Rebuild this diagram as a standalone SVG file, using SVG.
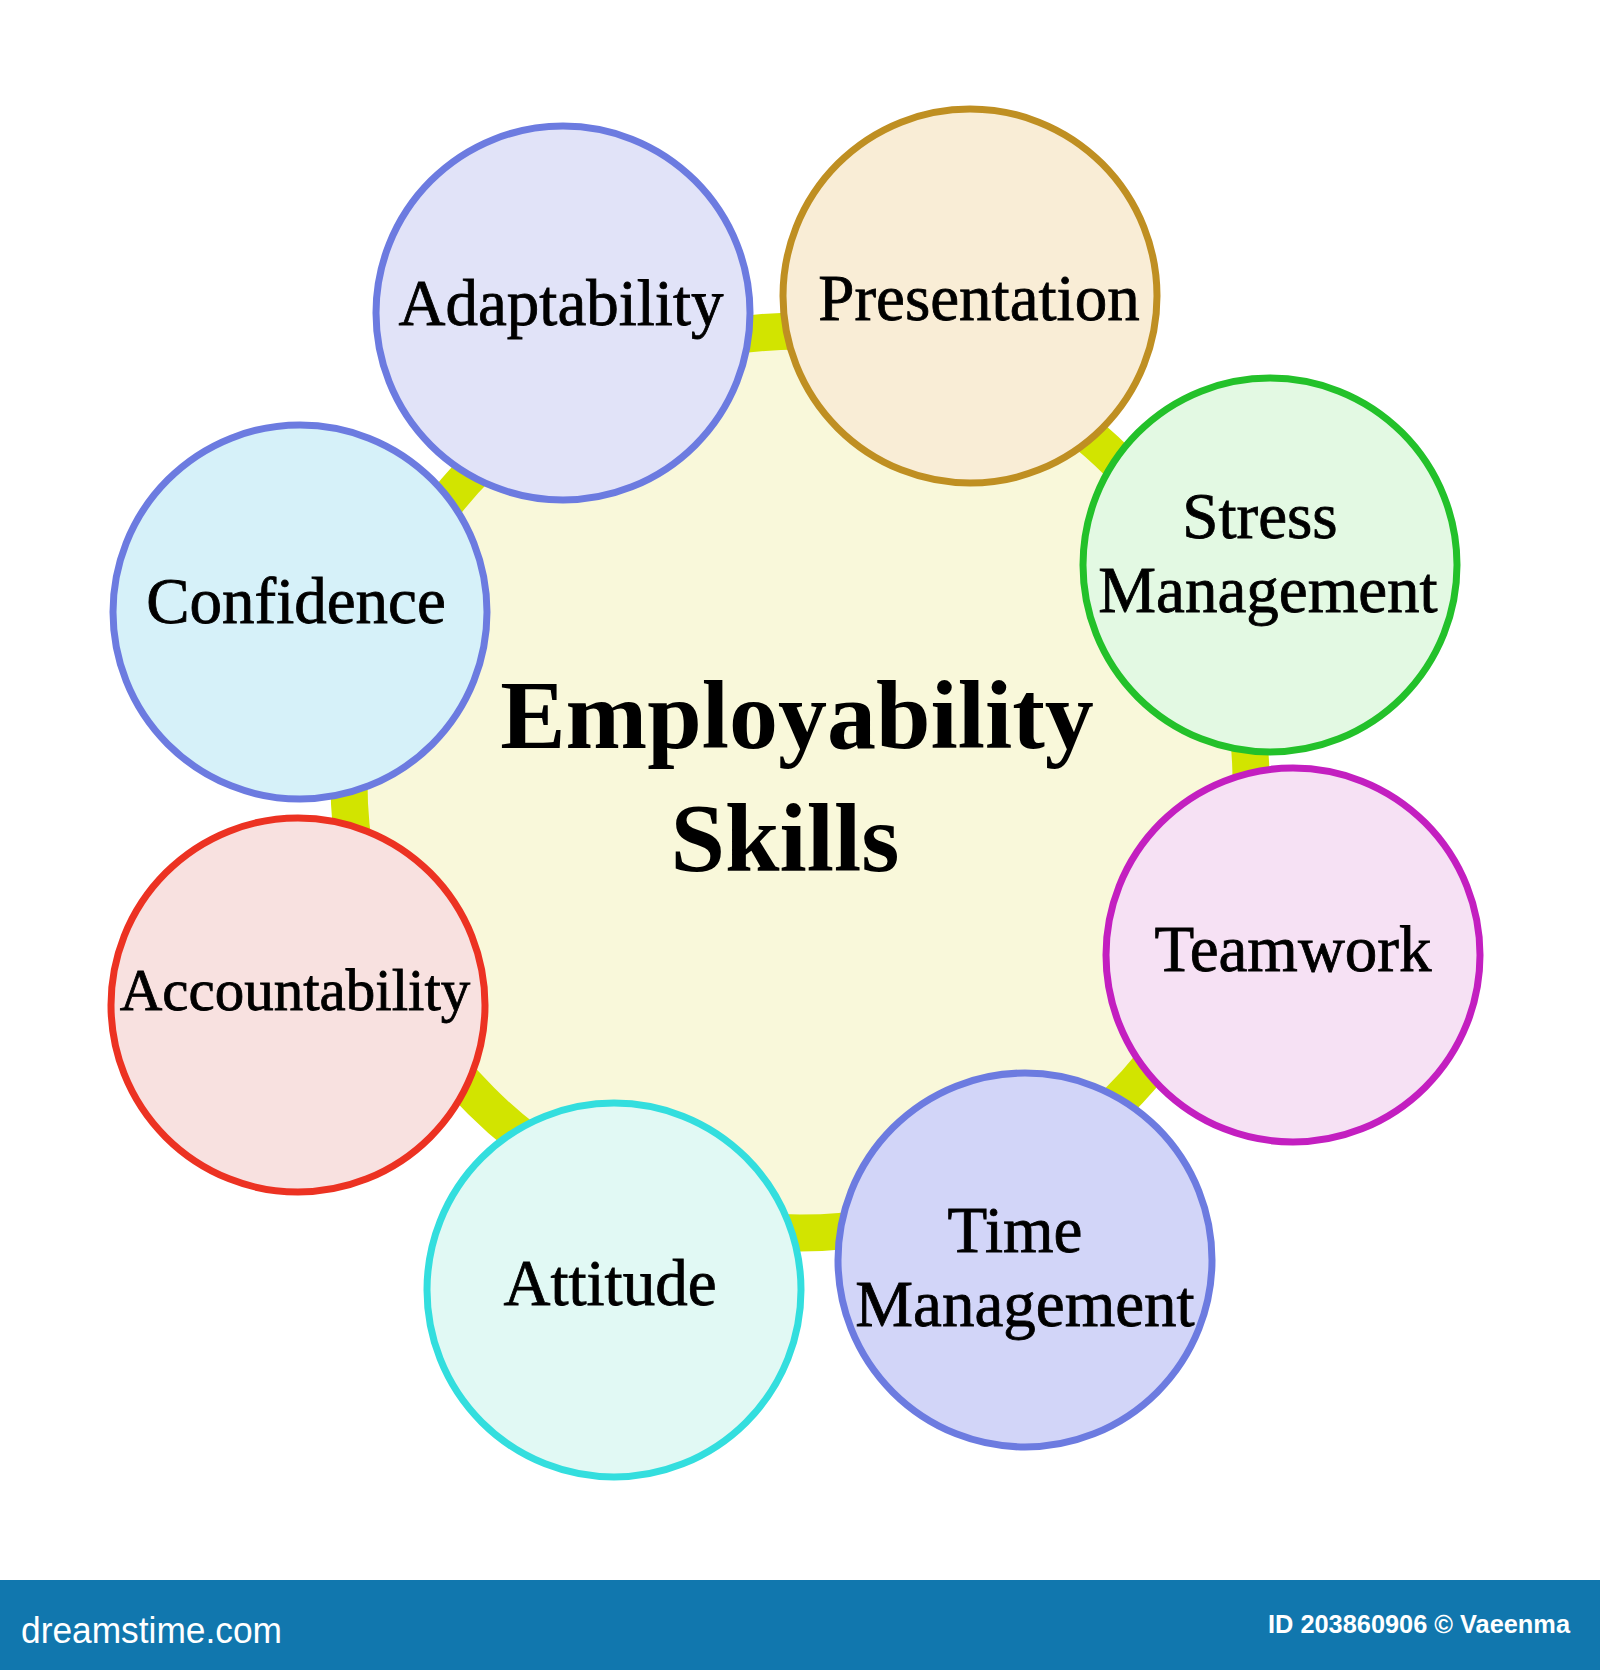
<svg xmlns="http://www.w3.org/2000/svg" width="1600" height="1670" viewBox="0 0 1600 1670">
<style>
.node{stroke-width:7}
.lbl{font-family:"Liberation Serif","Times New Roman",serif;font-size:65px;fill:#000;stroke:#000;stroke-width:0.8;text-anchor:middle}
.title{font-family:"Liberation Serif","Times New Roman",serif;font-size:98px;font-weight:bold;fill:#000;text-anchor:middle}
.foot{font-family:"Liberation Sans","Arial",sans-serif;fill:#fff}
</style>
<rect x="0" y="0" width="1600" height="1670" fill="#ffffff"/>
<g id="connectors">
<circle cx="800" cy="782" r="451" fill="#f9f8da" stroke="#d2e400" stroke-width="37"/>
</g>
<g id="node-adaptability">
<circle class="node" cx="563" cy="313" r="187" fill="#e1e3f8" stroke="#6c7be0"/>
<text class="lbl" x="561" y="325">Adaptability</text>
</g>
<g id="node-presentation">
<circle class="node" cx="970" cy="296" r="187" fill="#f9edd6" stroke="#bf8f22"/>
<text class="lbl" x="979" y="320">Presentation</text>
</g>
<g id="node-stress">
<circle class="node" cx="1270" cy="565" r="187" fill="#e3f9e3" stroke="#23c12a"/>
<text class="lbl" x="1260" y="538">Stress</text>
<text class="lbl" x="1268" y="612">Management</text>
</g>
<g id="node-teamwork">
<circle class="node" cx="1293" cy="955" r="187" fill="#f6e1f4" stroke="#c31fc0"/>
<text class="lbl" x="1293" y="971">Teamwork</text>
</g>
<g id="node-time">
<circle class="node" cx="1025" cy="1260" r="187" fill="#d2d5f8" stroke="#6c7be0"/>
<text class="lbl" x="1015" y="1252">Time</text>
<text class="lbl" x="1025" y="1326">Management</text>
</g>
<g id="node-attitude">
<circle class="node" cx="614" cy="1290" r="187" fill="#e1f9f4" stroke="#33dede"/>
<text class="lbl" x="610" y="1305">Attitude</text>
</g>
<g id="node-accountability">
<circle class="node" cx="298" cy="1005" r="187" fill="#f8e1e0" stroke="#ec3222"/>
<text class="lbl" x="295" y="1010" style="font-size:59px">Accountability</text>
</g>
<g id="node-confidence">
<circle class="node" cx="300" cy="612" r="187" fill="#d6f1f9" stroke="#6c7be0"/>
<text class="lbl" x="296" y="623">Confidence</text>
</g>
<g id="title">
<text class="title" x="797" y="748">Employability</text>
<text class="title" x="785" y="871">Skills</text>
</g>
<g id="footer">
<rect x="0" y="1580" width="1600" height="90" fill="#1177ae"/>
<text class="foot" x="21" y="1643" font-size="36" textLength="261" lengthAdjust="spacingAndGlyphs">dreamstime.com</text>
<text class="foot" x="1268" y="1633" font-size="25" font-weight="bold" textLength="302" lengthAdjust="spacingAndGlyphs">ID 203860906 © Vaeenma</text>
</g>
</svg>
